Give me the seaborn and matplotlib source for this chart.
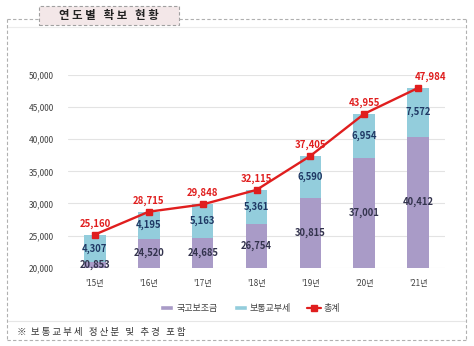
import matplotlib
matplotlib.use("Agg")
import matplotlib.pyplot as plt
import seaborn as sns
import pandas as pd
from matplotlib.patches import Rectangle, Patch
from matplotlib.lines import Line2D

years = ["'15년", "'16년", "'17년", "'18년", "'19년", "'20년", "'21년"]
national = [20853, 24520, 24685, 26754, 30815, 37001, 40412]
local = [4307, 4195, 5163, 5361, 6590, 6954, 7572]
total = [25160, 28715, 29848, 32115, 37405, 43955, 47984]
yticks = [20000, 25000, 30000, 35000, 40000, 45000, 50000]

sns.set_theme(style="white")
plt.rcParams['font.family'] = ['Noto Sans CJK KR', 'DejaVu Sans']

PURPLE = "#A99BC7"
BLUE = "#93CDDC"
RED = "#E01E1E"

df = pd.DataFrame({"year": years, "national": national, "local": local, "total": total})

fig = plt.figure(figsize=(4.74, 3.46), dpi=100)
ax = fig.add_axes([68/474, 1-267.7/346, 377/474, (267.7-75)/346])

sns.barplot(data=df, x="year", y="total", color=BLUE, width=0.4, ax=ax,
            saturation=1, edgecolor="none", zorder=2)
sns.barplot(data=df, x="year", y="national", color=PURPLE, width=0.4, ax=ax,
            saturation=1, edgecolor="none", zorder=3)

ymin, ymax = 20000, 50000
ax.set_ylim(ymin, ymax)
ax.set_xlim(-0.5, len(years) - 0.5)
xs = list(range(len(years)))
ax.plot(xs, total, color=RED, lw=1.7, marker="s", ms=5, zorder=5, clip_on=False)

for i in xs:
    ax.text(i, (ymin + national[i]) / 2, f"{national[i]:,}", ha="center", va="center",
            fontsize=6.8, fontweight="bold", color="#33334d", zorder=6)
    ax.text(i, national[i] + local[i] / 2, f"{local[i]:,}", ha="center", va="center",
            fontsize=6.8, fontweight="bold", color="#1F3864", zorder=6)
    dx = 9 if i == len(years) - 1 else 0
    ax.annotate(f"{total[i]:,}", (i, total[i]), xytext=(dx, 8), textcoords="offset points",
                ha="center", va="center", fontsize=6.9, fontweight="bold", color=RED,
                zorder=7, annotation_clip=False)

ax.set_yticks(yticks)
ax.set_yticklabels([f"{v:,}" for v in yticks], fontsize=6, color="#404040")
ax.tick_params(axis="x", labelsize=5.8, colors="#404040", pad=8, length=0)
ax.tick_params(axis="y", pad=10, length=0)
ax.set_xlabel("")
ax.set_ylabel("")
ax.yaxis.grid(True, color="#e3e3e3", lw=0.8, zorder=0)
ax.set_axisbelow(True)
for s in ax.spines.values():
    s.set_visible(False)

handles = [Patch(facecolor=PURPLE, label="국고보조금"),
           Patch(facecolor=BLUE, label="보통교부세"),
           Line2D([0], [0], color=RED, lw=1.6, marker="s", ms=4, label="총계")]
fig.legend(handles=handles, loc="center", bbox_to_anchor=(250/474, 1-308/346), ncol=3,
           frameon=False, fontsize=6.5, handlelength=1.5, handleheight=0.5,
           columnspacing=1.8, handletextpad=0.3, labelcolor="#404040")

W, H = 474, 346
def fx(x): return x / W
def fy(y): return 1 - y / H
dash = dict(color="#b0b0b0", lw=0.8, ls=(0, (3, 2)))
fig.add_artist(Line2D([fx(7), fx(7)], [fy(19), fy(340)], **dash))
fig.add_artist(Line2D([fx(466), fx(466)], [fy(19), fy(340)], **dash))
fig.add_artist(Line2D([fx(7), fx(466)], [fy(340), fy(340)], **dash))
fig.add_artist(Line2D([fx(7), fx(39)], [fy(19), fy(19)], **dash))
fig.add_artist(Line2D([fx(179), fx(466)], [fy(19), fy(19)], **dash))
fig.add_artist(Line2D([fx(8), fx(465)], [fy(27), fy(27)], color="#ececec", lw=0.8))
fig.add_artist(Line2D([fx(8), fx(465)], [fy(321), fy(321)], color="#e6e6e6", lw=0.8))

fig.add_artist(Rectangle((fx(39), fy(25)), (179-39)/W, 19/H, facecolor="#F3E7E8",
                         edgecolor="#a0a0a0", lw=0.8, ls=(0, (3, 2))))
fig.text(fx(109), fy(15.5), "연 도 별   확 보   현 황", ha="center", va="center",
         fontsize=8.2, fontweight="bold", color="#222222")

fig.text(fx(17), fy(332), "※  보 통 교 부 세   정 산 분   및   추 경   포 함", ha="left", va="center",
         fontsize=6.8, color="#333333")

fig.savefig("out.png", dpi=100)
